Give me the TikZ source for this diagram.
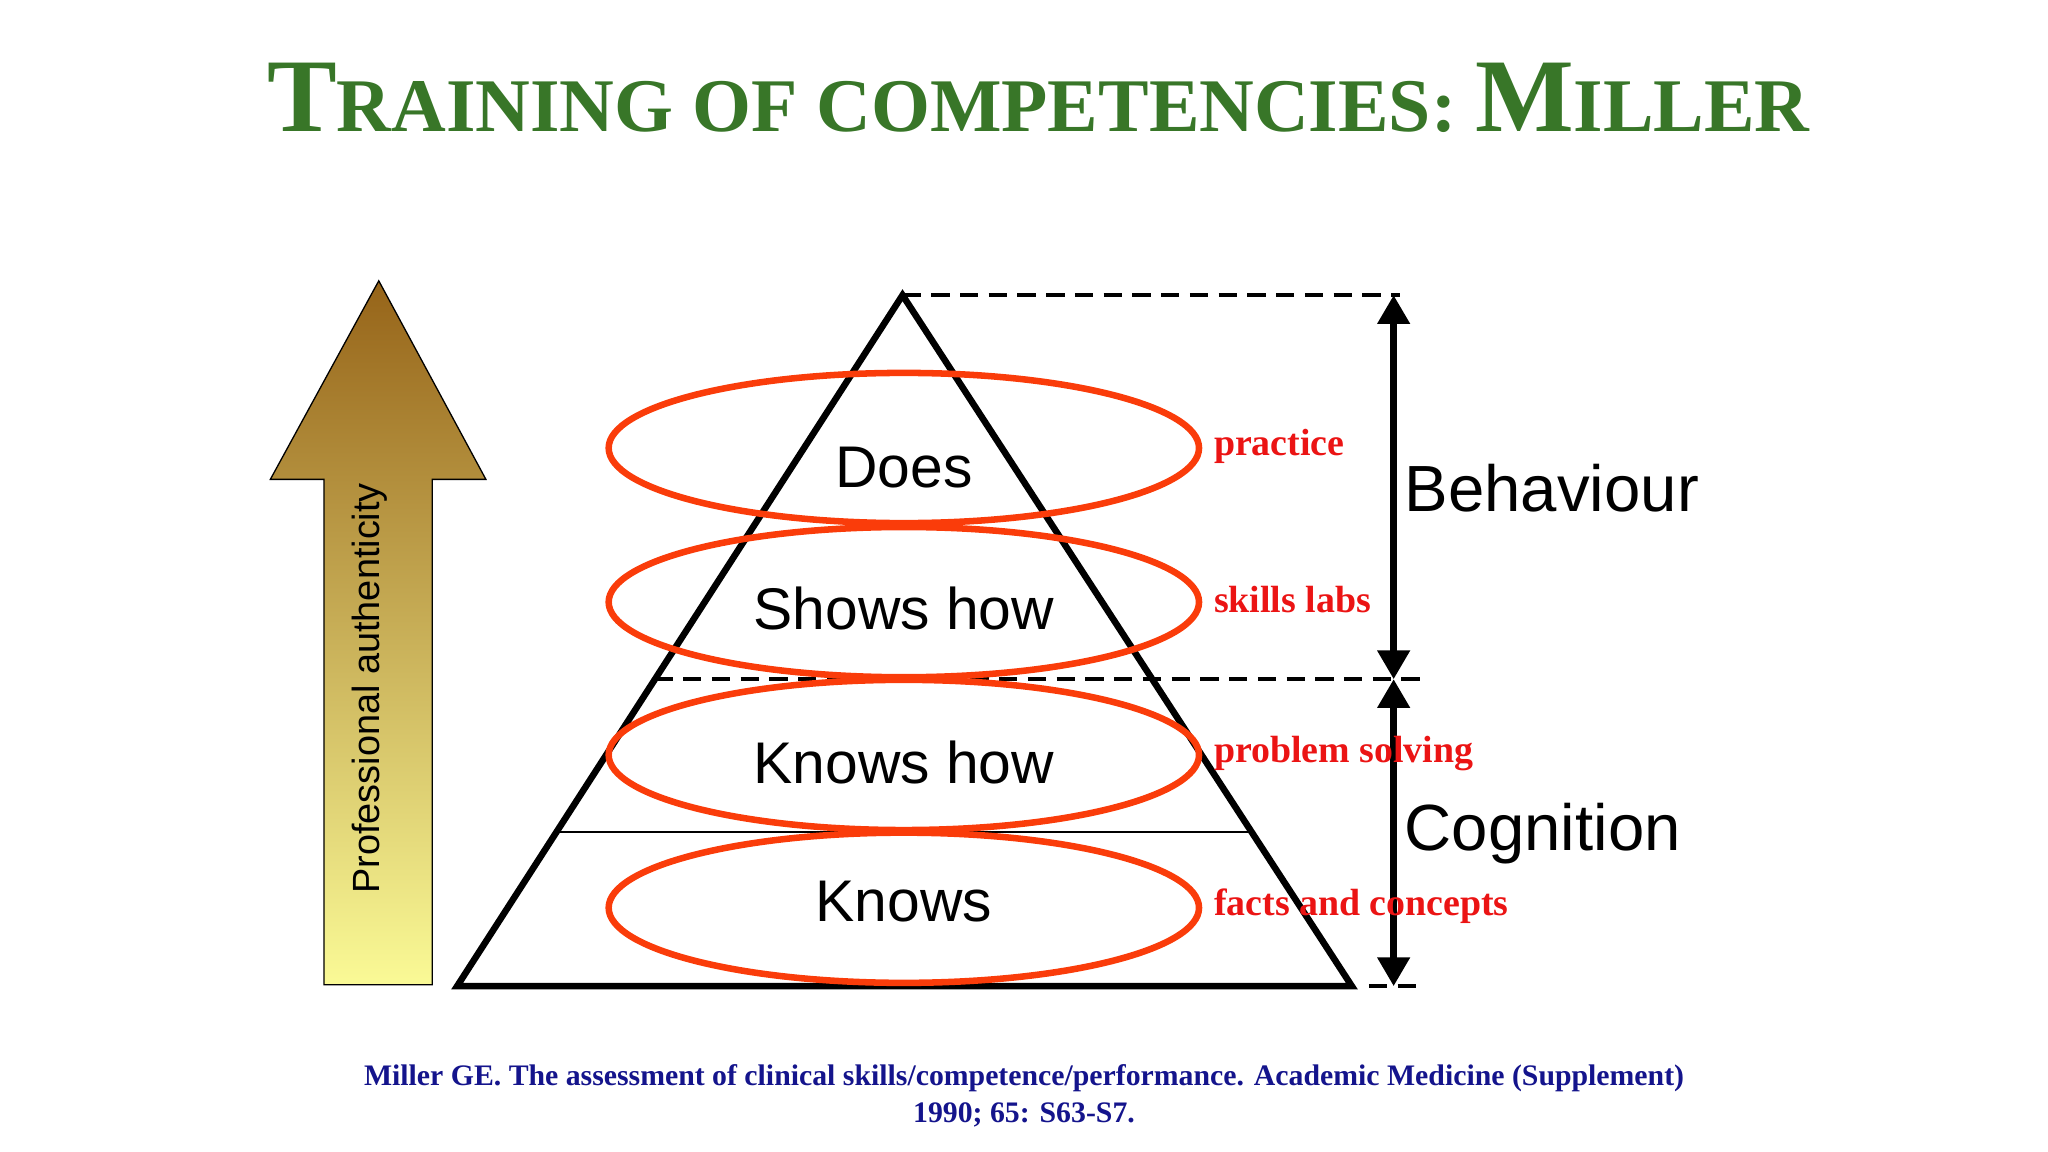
\documentclass[tikz,border=0pt]{standalone}
\usepackage{fontspec}
\setmainfont{Liberation Serif}
\setsansfont{Liberation Sans}
\usetikzlibrary{arrows.meta,shapes.geometric}
\definecolor{ttl}{RGB}{56,118,40}
\definecolor{ell}{RGB}{250,60,10}
\definecolor{lbl}{RGB}{235,20,20}
\definecolor{navy}{RGB}{20,20,140}
\definecolor{brn}{RGB}{150,100,25}
\definecolor{ylw}{RGB}{250,250,150}
\tikzset{
  lvl/.style={draw=ell,line width=5pt,ellipse,minimum width=452pt,minimum height=115pt},
  lvltxt/.style={font=\sffamily\fontsize{45}{48}\selectfont},
  red/.style={anchor=west,text=lbl,font=\bfseries\fontsize{29}{31}\selectfont},
  big/.style={anchor=west,font=\sffamily\fontsize{50}{54}\selectfont},
  dbl/.style={line width=5pt,{Triangle[length=22pt,width=24pt]}-{Triangle[length=22pt,width=24pt]},shorten <=0pt,shorten >=0pt}
}
\begin{document}
\begin{tikzpicture}[x=1pt,y=-1pt]
\useasboundingbox (0,0) rectangle (1568,882);
\node (title) at (795,75) {\color{ttl}\bfseries\fontsize{80}{84}\selectfont T\fontsize{58}{62}\selectfont RAINING OF COMPETENCIES: \fontsize{80}{84}\selectfont M\fontsize{58}{62}\selectfont ILLER};
% arrow
\shadedraw[top color=brn,bottom color=ylw,draw=black,line width=1pt]
 (248,754) -- (248,367) -- (207,367) -- (290,215) -- (372,367) -- (331,367) -- (331,754) -- cycle;
\node[rotate=90,font=\sffamily\fontsize{29}{31}\selectfont] (pa) at (283,527) {Professional authenticity};
% pyramid
\coordinate (apex) at (691,226);
\coordinate (bl) at (350,755);
\coordinate (br) at (1035,755);
\draw[line width=5pt,line join=miter] (apex) -- (bl) -- (br) -- cycle;
\draw[line width=1.5pt] (426,637) -- (957,637);
\draw[line width=3pt,dash pattern=on 14pt off 8pt] (apex) -- (1072,226);
\draw[line width=3pt,dash pattern=on 14pt off 8pt] (501,520) -- (1090,520);
\draw[line width=3pt,dash pattern=on 14pt off 8pt] (1048,755) -- (1090,755);
\coordinate (a1) at (1067,226);
\coordinate (a2) at (1067,520);
\coordinate (a3) at (1067,755);
\draw[dbl] (a1) -- (a2);
\draw[dbl] (a2) -- (a3);
% ellipses
\node[lvl] (e1) at (692,343) {};
\node[lvl] (e2) at (692,461) {};
\node[lvl] (e3) at (692,578) {};
\node[lvl] (e4) at (692,695) {};
\node[lvltxt] (t1) at (692,358) {Does};
\node[lvltxt] (t2) at (692,466) {Shows how};
\node[lvltxt] (t3) at (692,584) {Knows how};
\node[lvltxt] (t4) at (692,690) {Knows};
\node[red] (r1) at (926,342) {practice};
\node[red] (r2) at (926,459) {skills labs};
\node[red] (r3) at (926,577) {problem solving};
\node[red] (r4) at (926,694) {facts and concepts};
\node[big] (b) at (1072,374) {Behaviour};
\node[big] (c) at (1072,638) {Cognition};
\node[align=center,text=navy,font=\bfseries\fontsize{22.8}{29}\selectfont] (cite) at (784,839)
 {Miller GE. The assessment of clinical skills/competence/performance. Academic Medicine (Supplement)\\1990; 65: S63-S7.};
\end{tikzpicture}
\end{document}
